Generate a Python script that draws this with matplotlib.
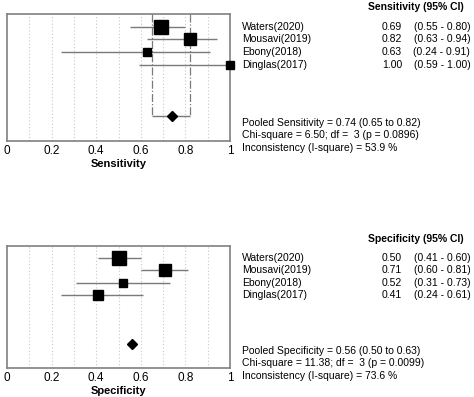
import numpy as np
import matplotlib
matplotlib.use('Agg')
import matplotlib.pyplot as plt

plt.rcParams['font.family'] = ['Liberation Sans', 'DejaVu Sans']

# データ
studies = ['Waters(2020)', 'Mousavi(2019)', 'Ebony(2018)', 'Dinglas(2017)']

sens = [0.69, 0.82, 0.63, 1.00]
sens_lo = [0.55, 0.63, 0.24, 0.59]
sens_hi = [0.80, 0.94, 0.91, 1.00]
sens_wt = [10, 8, 5.3, 5.5]  # 相対的な重み
sens_pool = [0.74, 0.65, 0.82]
sens_stats = ['Pooled Sensitivity = 0.74 (0.65 to 0.82)',
              'Chi-square = 6.50; df =  3 (p = 0.0896)',
              'Inconsistency (I-square) = 53.9 %']

spec = [0.50, 0.71, 0.52, 0.41]
spec_lo = [0.41, 0.60, 0.31, 0.24]
spec_hi = [0.60, 0.81, 0.73, 0.61]
spec_wt = [10, 9, 6, 6.7]
spec_pool = [0.56, 0.50, 0.63]
spec_stats = ['Pooled Specificity = 0.56 (0.50 to 0.63)',
              'Chi-square = 11.38; df =  3 (p = 0.0099)',
              'Inconsistency (I-square) = 73.6 %']

xticks = [0, 0.2, 0.4, 0.6, 0.8, 1]
xticklabels = ['0', '0.2', '0.4', '0.6', '0.8', '1']


def forest(fig, rect, name, est, lo, hi, wt, pool, stats, show_ci):
    ax = fig.add_axes(rect)
    rows = np.arange(1, len(est) + 1)
    prow = 8
    # グリッド
    for g in np.arange(0.1, 1.0, 0.1):
        ax.axvline(g, color='#c8c8c8', lw=0.8, ls=(0, (1, 2)), zorder=0)
    # 信頼区間
    ax.hlines(rows, lo, hi, color='#7a7a7a', lw=1.0, zorder=1)
    for r, e, w in zip(rows, est, wt):
        ax.plot(e, r, 's', color='black', ms=w, zorder=3, clip_on=False)
    if show_ci:
        ax.vlines([pool[1], pool[2]], 0, prow, color='#7a7a7a', lw=0.9,
                  ls='-.', zorder=1)
        ax.hlines(prow, pool[1], pool[2], color='#7a7a7a', lw=1.0, zorder=1)
    ax.plot(pool[0], prow, 'D', color='black', ms=5, zorder=4)
    ax.set_xlim(0, 1)
    ax.set_ylim(10, 0)
    ax.set_yticks([])
    ax.set_xticks(xticks)
    ax.set_xticklabels(xticklabels, fontsize=8.5)
    ax.tick_params(axis='x', length=0, pad=3)
    for s in ax.spines.values():
        s.set_color('#808080')
        s.set_linewidth(1.2)
    ax.set_xlabel(name, fontsize=8, fontweight='bold', labelpad=1)

    # 右側のテキスト
    tr = ax.transData
    for r, st, e, l, h in zip(rows, studies, est, lo, hi):
        ax.annotate(st, xy=(1, r), xycoords=tr, xytext=(8.5, 0),
                    textcoords='offset points', fontsize=7.5, va='center',
                    ha='left', annotation_clip=False)
        ax.annotate('%.2f' % e, xy=(1, r), xycoords=tr, xytext=(124, 0),
                    textcoords='offset points', fontsize=7.5, va='center',
                    ha='right', annotation_clip=False)
        ax.annotate('(%.2f - %.2f)' % (l, h), xy=(1, r), xycoords=tr,
                    xytext=(173, 0), textcoords='offset points',
                    fontsize=7.5, va='center', ha='right',
                    annotation_clip=False)
    ax.annotate(name + ' (95% CI)', xy=(1, 0), xycoords=tr,
                xytext=(168, 5), textcoords='offset points', fontsize=7.5,
                fontweight='bold', va='center', ha='right',
                annotation_clip=False)
    for i, t in enumerate(stats):
        ax.annotate(t, xy=(1, prow), xycoords=tr,
                    xytext=(8.5, -5 - i * 9.3), textcoords='offset points',
                    fontsize=7.5, va='center', ha='left',
                    annotation_clip=False)
    return ax


fig = plt.figure(figsize=(4.74, 3.97), dpi=100)
H = 397.
W = 474.
forest(fig, (7 / W, 1 - 141 / H, 223 / W, 127 / H), 'Sensitivity',
       sens, sens_lo, sens_hi, sens_wt, sens_pool, sens_stats, True)
forest(fig, (7 / W, 1 - 368 / H, 223 / W, 122 / H), 'Specificity',
       spec, spec_lo, spec_hi, spec_wt, spec_pool, spec_stats, False)

plt.savefig('out.png', dpi=100)
plt.close()
